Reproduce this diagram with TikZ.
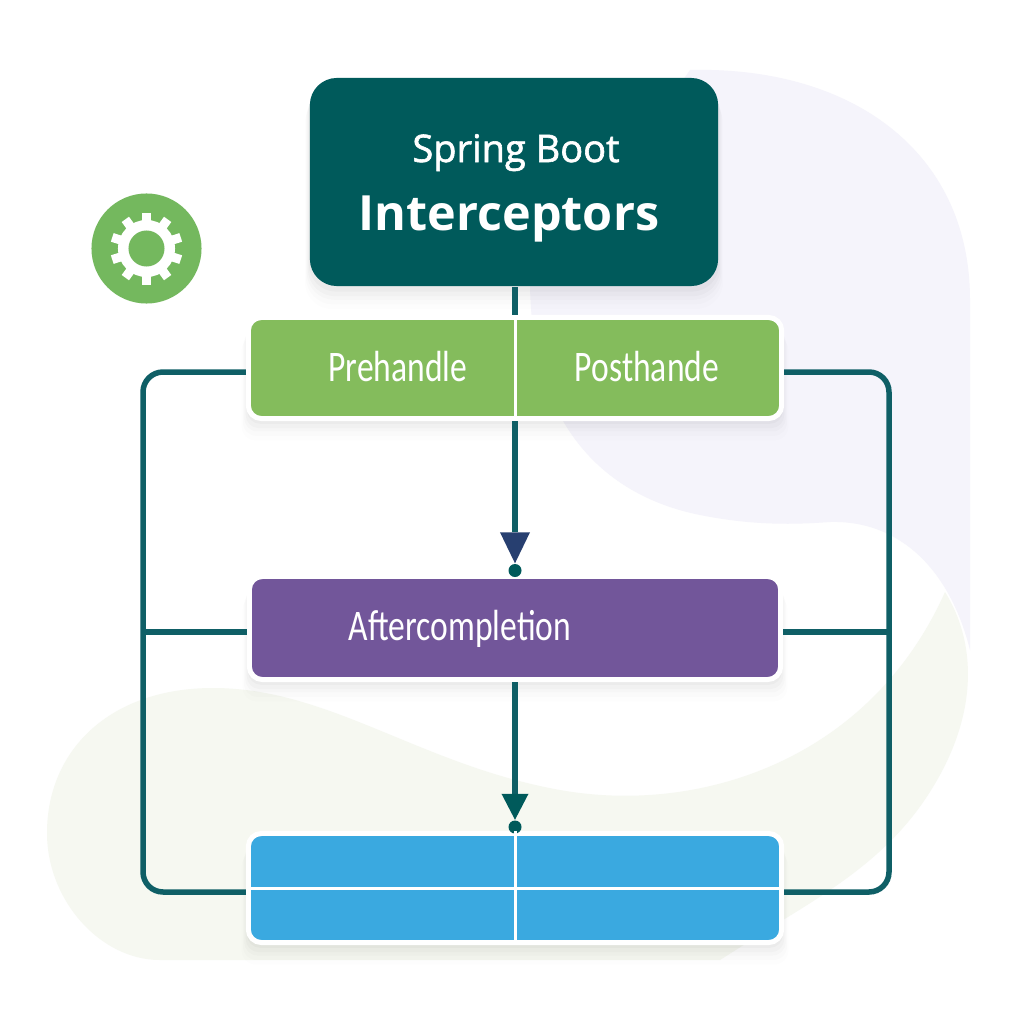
\documentclass[tikz,border=0pt]{standalone}
\usepackage{fontspec}
\setmainfont{Carlito}
\newfontfamily\labelfont[FakeStretch=0.77]{Carlito}
\newfontfamily\titlefont[FakeBold=1.6]{Open Sans}
\newfontfamily\titleboldfont{Open Sans}
\usetikzlibrary{shadows,arrows.meta,calc}
\definecolor{titleteal}{HTML}{005A5B}
\definecolor{lineteal}{HTML}{0F5F66}
\definecolor{barGreen}{HTML}{84BC5C}
\definecolor{gearGreen}{HTML}{74B85E}
\definecolor{barPurple}{HTML}{72569A}
\definecolor{barBlue}{HTML}{3AA9E0}
\definecolor{headNavy}{HTML}{273F70}
\definecolor{blobLav}{HTML}{F5F4FB}
\definecolor{blobSage}{HTML}{F6F8F1}
\tikzset{
    softshadow/.style={
        general shadow={shadow yshift=-.2cm,shadow scale=1.025,fill=black,opacity=.008},
        general shadow={shadow yshift=-.16cm,shadow scale=1.02,fill=black,opacity=.012},
        general shadow={shadow yshift=-.12cm,shadow scale=1.015,fill=black,opacity=.016},
        general shadow={shadow yshift=-.09cm,shadow scale=1.01,fill=black,opacity=.02},
        general shadow={shadow yshift=-.05cm,shadow scale=1.005,fill=black,opacity=.025}},
    bar/.style={rectangle,draw=white,line width=.05cm,rounded corners=.13cm,minimum width=5.33cm,softshadow},
    flowline/.style={draw=lineteal,line width=.055cm},
    railline/.style={flowline,rounded corners=.2cm},
    divider/.style={draw=white,line width=.03cm},
    barlabel/.style={text=white,anchor=base,font=\labelfont\fontsize{12.4}{14}\selectfont},
    enddot/.style={circle,fill=titleteal,inner sep=0pt,minimum size=.13cm}
}
\begin{document}
\begin{tikzpicture}[x=.01cm,y=-.01cm]
        \useasboundingbox (0,0) rectangle (1024,1024);
        \fill[white] (0,0) rectangle (1024,1024);

        \fill[blobLav] (530,280) -- (600,200) -- (690,70) .. controls (850,66) and (970,150) .. (970,300)
            -- (970,650) .. controls (950,570) and (900,520) .. (830,522)
            .. controls (790,525) and (750,525) .. (700,515)
            .. controls (600,495) and (530,420) .. (530,280) -- cycle;
        \fill[blobSage] (47,833) .. controls (47,750) and (110,688) .. (213,688)
            .. controls (330,688) and (420,765) .. (560,790)
            .. controls (700,815) and (870,760) .. (945,592)
            .. controls (975,640) and (980,710) .. (933,787)
            .. controls (895,850) and (840,885) .. (783,920)
            -- (720,960) -- (160,960) .. controls (100,960) and (47,900) .. (47,833) -- cycle;

        \node at (514,182) [rectangle,fill=titleteal,rounded corners=.27cm,minimum width=4.08cm,minimum height=2.08cm,softshadow] (title) {};
        \node at (516,162) [text=white,anchor=base,font=\titlefont\fontsize{10.8}{13}\selectfont] (titleTop) {Spring Boot};
        \node at (509,230) [text=white,anchor=base,font=\titleboldfont\bfseries\fontsize{13.8}{16}\selectfont] (titleMain) {Interceptors};

        \node at (515,368) [bar,fill=barGreen,minimum height=1.01cm] (greenBar) {};
        \node at (398,381) [barlabel] (prehandle) {Prehandle};
        \node at (647,381) [barlabel] (posthandle) {Posthande};

        \node at (515,628) [bar,fill=barPurple,minimum width=5.31cm,minimum height=1.03cm] (purpleBar) {};
        \node at (460,640) [barlabel] (aftercompletion) {Aftercompletion};

        \node at (515,888) [bar,fill=barBlue,minimum height=1.09cm] (blueBar) {};

        \node at (515,570.5) [enddot] (dotPurple) {};
        \node at (515,827) [enddot] (dotBlue) {};

        \node at (146.5,248.5) [circle,fill=gearGreen,inner sep=0pt,minimum size=1.1cm] (gearBadge) {};
        \foreach \a in {0,36,...,324}
            \fill[white,rotate around={\a:(gearBadge.center)}] ($(gearBadge.center)+(-4.5,-36)$) rectangle ($(gearBadge.center)+(4.5,-22)$);
        \fill[white] (gearBadge.center) circle (.285cm);
        \fill[gearGreen] (gearBadge.center) circle (.18cm);

        \draw[divider] (greenBar.north) -- (greenBar.south);
        \draw[divider] (blueBar.north) -- (blueBar.south);
        \draw[divider] (blueBar.west) -- (blueBar.east);

        \coordinate (leftTop) at (143,372);
        \coordinate (leftMid) at (143,632);
        \coordinate (leftBot) at (143,892);
        \coordinate (rightTop) at (889,372);
        \coordinate (rightMid) at (889,632);
        \coordinate (rightBot) at (889,892);

        \draw[flowline] (title.south -| greenBar.north) -- (greenBar.north);
        \draw[flowline,-{Triangle[length=.31cm,width=.3cm,line width=0pt,color=headNavy]}] (greenBar.south) -- (dotPurple.north);
        \draw[flowline,-{Triangle[length=.26cm,width=.27cm,line width=0pt,color=titleteal]}] (purpleBar.south) -- (dotBlue.north);

        \draw[railline] (greenBar.west |- leftTop) -- (leftTop) -- (leftBot) -- (blueBar.west |- leftBot);
        \draw[railline] (greenBar.east |- rightTop) -- (rightTop) -- (rightBot) -- (blueBar.east |- rightBot);
        \draw[flowline] (purpleBar.west |- leftMid) -- (leftMid);
        \draw[flowline] (purpleBar.east |- rightMid) -- (rightMid);
    \end{tikzpicture}
\end{document}
